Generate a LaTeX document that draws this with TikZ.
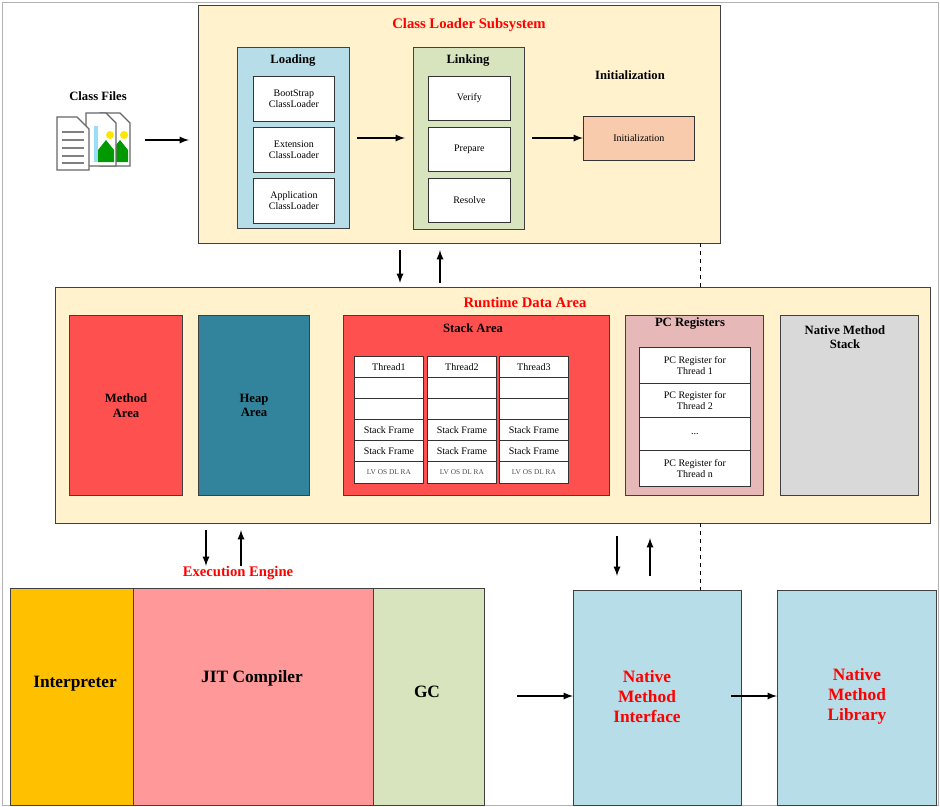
\documentclass[tikz,border=0pt]{standalone}
\usepackage{fontspec}
\setmainfont{Liberation Serif}
\begin{document}
\begin{tikzpicture}[x=0.75pt,y=-0.75pt,
  sz/.style 2 args={minimum width=#1*0.75pt,minimum height=#2*0.75pt},
  box/.style={draw=black!75,line width=0.8pt,anchor=north west,inner sep=0pt},
  cell/.style={draw=black!80,fill=white,line width=0.6pt,anchor=north west,inner sep=0pt,font=\fontsize{7.5}{8.5}\selectfont,align=center},
  ttl/.style={font=\bfseries\fontsize{9.5}{11}\selectfont,align=center},
  rtl/.style={font=\bfseries\fontsize{11}{13}\selectfont,text=red},
  big/.style={font=\bfseries\fontsize{13}{15}\selectfont,align=center},
  arr/.style={-latex,line width=1.4pt},
  dsh/.style={dashed,line width=0.6pt}]
\definecolor{cream}{HTML}{FFF2CC}
\definecolor{lblue}{HTML}{B7DEE8}
\definecolor{lgreen}{HTML}{D7E4BD}
\definecolor{peach}{HTML}{F8CBAD}
\definecolor{rred}{HTML}{FF5050}
\definecolor{teal}{HTML}{31849B}
\definecolor{pink}{HTML}{E6B9B8}
\definecolor{jit}{HTML}{FF9999}
\definecolor{gold}{HTML}{FFC000}
\useasboundingbox (0,0) rectangle (940,807);
\draw[black!30] (2,2) rectangle (938,805);
% Class loader subsystem
\node[box,fill=cream,sz={522}{238}] (cls) at (198,5) {};
\node[rtl] (clst) at (469,25) {Class Loader Subsystem};
\node[box,fill=lblue,sz={112}{181}] (load) at (237,47) {};
\node[ttl] (loadt) at (293,61) {Loading};
\node[cell,sz={81}{45}] (bs) at (253,76) {BootStrap\\ClassLoader};
\node[cell,sz={81}{45}] (ex) at (253,127) {Extension\\ClassLoader};
\node[cell,sz={81}{45}] (ap) at (253,178) {Application\\ClassLoader};
\node[box,fill=lgreen,sz={111}{182}] (link) at (413,47) {};
\node[ttl] (linkt) at (468,61) {Linking};
\node[cell,sz={82}{44}] (ve) at (428,76) {Verify};
\node[cell,sz={82}{44}] (pr) at (428,127) {Prepare};
\node[cell,sz={82}{44}] (re) at (428,178) {Resolve};
\node[ttl] (initt) at (630,75) {Initialization};
\node[cell,fill=peach,sz={111}{44}] (init) at (583,116) {Initialization};
% class files
\node[ttl] (cf) at (98,96) {Class Files};
\begin{scope}[line width=0.8pt]
\foreach \dx in {30,16} {
 \draw[fill=white,draw=black!60] (70+\dx,113) -- (90+\dx,113) -- (100+\dx,123) -- (100+\dx,166) -- (70+\dx,166) -- cycle;
 \fill[green!60!black] (82+\dx,150) -- (90+\dx,140) -- (98+\dx,150) -- (98+\dx,162) -- (82+\dx,162) -- cycle;
 \fill[yellow!90!orange] (94+\dx,135) circle (4);
 \fill[cyan!40] (78+\dx,126) rectangle (82+\dx,162);
}
\draw[fill=white,draw=black!60] (57,117) -- (77,117) -- (89,129) -- (89,170) -- (57,170) -- cycle;
\foreach \y in {132,140,148,156,163} \draw[black!50,line width=1pt] (62,\y) -- (84,\y);
\end{scope}
\coordinate (cfa) at (145,140); \coordinate (cfb) at (189,140);
\draw[arr] (cfa) -- (cfb);
\coordinate (la) at (357,138); \coordinate (lb) at (405,138);
\draw[arr] (la) -- (lb);
\coordinate (ka) at (532,138);
\draw[arr] (ka) -- (init.west |- ka);
% between
\coordinate (d1a) at (400,250); \coordinate (d1b) at (400,283);
\coordinate (u1a) at (440,283); \coordinate (u1b) at (440,250);
\draw[arr] (d1a) -- (d1b); \draw[arr] (u1a) -- (u1b);
\draw[dsh] (700,243) -- (700,287);
% RDA
\node[box,fill=cream,sz={875}{236}] (rda) at (55,287) {};
\node[rtl] (rdat) at (525,302) {Runtime Data Area};
\node[box,fill=rred,sz={113}{180}] (ma) at (69,315) {};
\node[ttl] at (ma.center) {Method\\Area};
\node[box,fill=teal,sz={111}{180}] (ha) at (198,315) {};
\node[ttl] at (ha.center) {Heap\\Area};
\node[box,fill=rred,sz={266}{180}] (sa) at (343,315) {};
\node[ttl] at (473,328) {Stack Area};
\foreach \x/\n in {354/1,427/2,499/3} {
  \node[cell,sz={69}{21}] (t\n) at (\x,356) {Thread\n};
  \node[cell,sz={69}{21}] at (\x,377) {};
  \node[cell,sz={69}{21}] at (\x,398) {};
  \node[cell,sz={69}{21}] at (\x,419) {Stack Frame};
  \node[cell,sz={69}{22},font=\fontsize{5.5}{6}\selectfont,text=black!70] at (\x,461) {LV OS DL RA};
  \node[cell,sz={69}{21}] at (\x,440) {Stack Frame};
}
\node[box,fill=pink,sz={138}{180}] (pc) at (625,315) {};
\node[ttl] at (690,324) {PC Registers};
\node[cell,sz={111}{36}] at (639,347) {PC Register for\\Thread 1};
\node[cell,sz={111}{34}] at (639,383) {PC Register for\\Thread 2};
\node[cell,sz={111}{33}] at (639,417) {...};
\node[cell,sz={111}{36}] at (639,450) {PC Register for\\Thread n};
\node[box,fill=black!15,sz={138}{180}] (nms) at (780,315) {};
\node[ttl] at (845,337) {Native Method\\Stack};
% arrows
\coordinate (d2a) at (206,530); \coordinate (d2b) at (206,566);
\coordinate (u2a) at (241,566); \coordinate (u2b) at (241,530);
\draw[arr] (d2a) -- (d2b); \draw[arr] (u2a) -- (u2b);
\coordinate (d3a) at (617,536); \coordinate (d3b) at (617,576);
\coordinate (u3a) at (650,576); \coordinate (u3b) at (650,538);
\draw[arr] (d3a) -- (d3b); \draw[arr] (u3a) -- (u3b);
\draw[dsh] (700,523) -- (700,590);
% execution engine
\node[rtl] (eet) at (238,573) {Execution Engine};
\node[box,fill=gold,sz={123}{217}] (int) at (10,588) {};
\node[big] at (75,684) {Interpreter};
\node[box,fill=jit,sz={240}{217}] (jitc) at (133,588) {};
\node[big] at (252,678) {JIT Compiler};
\node[box,fill=lgreen,sz={111}{217}] (gc) at (373,588) {};
\node[big] at (427,692) {GC};
\node[box,fill=lblue,sz={168}{215}] (nmi) at (573,590) {};
\node[big,text=red] at (647,697) {Native\\Method\\Interface};
\node[box,fill=lblue,sz={159}{215}] (nml) at (777,590) {};
\node[big,text=red] at (857,696) {Native\\Method\\Library};
\coordinate (ea) at (517,696); \coordinate (eb) at (731,696);
\draw[arr] (ea) -- (nmi.west |- ea);
\draw[arr] (eb) -- (nml.west |- eb);
\end{tikzpicture}
\end{document}
